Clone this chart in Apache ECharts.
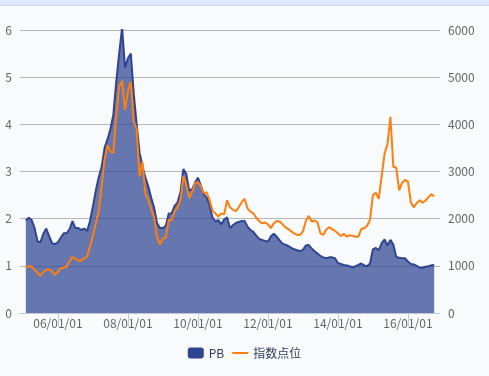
<!DOCTYPE html>
<html>
<head>
<meta charset="utf-8">
<script src="https://cdn.jsdelivr.net/npm/echarts@6/dist/echarts.min.js"></script>
<style>
  html, body { margin: 0; padding: 0; background: #f9fafc; }
  #topbar { position: absolute; left: 0; top: 0; width: 489px; height: 5px; background: #dde9fb; border-bottom: 1px solid #cfdcf0; }
  #chart { width: 489px; height: 376px; }
</style>
</head>
<body>
<div id="topbar"></div>
<div id="chart"></div>
<script>
// monthly points, 2004-12 .. 2016-12
const startYear = 2004, startMonth = 12, monthCount = 145;
const months = [];
for (let i = 0; i < monthCount; i++) {
    const total = startMonth - 1 + i;
    const y = startYear + Math.floor(total / 12);
    const m = total % 12 + 1;
    months.push(String(y % 100).padStart(2, '0') + '/' + String(m).padStart(2, '0') + '/01');
}

const tickLabels = ['06/01/01', '08/01/01', '10/01/01', '12/01/01', '14/01/01', '16/01/01'];

const pbValues = [
    null, null,
    1.96, 2.02, 1.97, 1.80, 1.52, 1.50, 1.68, 1.79, 1.63, 1.48, 1.46,
    1.50, 1.60, 1.69, 1.69, 1.78, 1.95, 1.80, 1.80, 1.76, 1.79, 1.74, 1.95,
    2.26, 2.60, 2.88, 3.10, 3.50, 3.68, 3.90, 4.20, 4.90, 5.50, 6.05, 5.20,
    5.40, 5.50, 4.65, 4.00, 3.40, 3.10, 2.87, 2.68, 2.44, 2.23, 1.90, 1.80,
    1.80, 1.85, 2.11, 2.11, 2.27, 2.34, 2.56, 3.05, 2.95, 2.60, 2.62, 2.76,
    2.87, 2.70, 2.52, 2.45, 2.28, 2.02, 1.94, 1.97, 1.88, 1.98, 2.03, 1.80,
    1.86, 1.91, 1.93, 1.95, 1.95, 1.83, 1.76, 1.72, 1.64, 1.57, 1.55, 1.53,
    1.51, 1.62, 1.68, 1.62, 1.54, 1.47, 1.45, 1.42, 1.38, 1.35, 1.33, 1.31,
    1.34, 1.43, 1.44, 1.37, 1.31, 1.26, 1.21, 1.18, 1.16, 1.18, 1.18, 1.16,
    1.06, 1.04, 1.02, 1.01, 0.99, 0.97, 0.99, 1.02, 1.05, 1.01, 0.99, 1.05,
    1.35, 1.38, 1.33, 1.48, 1.56, 1.43, 1.55, 1.45, 1.19, 1.17, 1.16, 1.16,
    1.09, 1.04, 1.03, 1.00, 0.96, 0.96, 0.98, 0.99, 1.01, 1.02,
    null, null
];

const indexValues = [
    null, null,
    960, 1000, 980, 920, 850, 790, 870, 915, 925, 880, 806,
    880, 950, 965, 982, 1100, 1185, 1150, 1110, 1110, 1160, 1200, 1406,
    1650, 1900, 2160, 2700, 3250, 3560, 3420, 3400, 4200, 4800, 4920, 4300,
    4700, 4900, 4050, 3900, 2900, 3200, 2520, 2396, 2210, 2020, 1600, 1450,
    1580, 1600, 1972, 1972, 2160, 2240, 2400, 2900, 2730, 2440, 2560, 2750,
    2780, 2680, 2540, 2560, 2400, 2170, 2110, 2042, 2110, 2090, 2390, 2240,
    2190, 2160, 2240, 2350, 2420, 2220, 2150, 2114, 2020, 1950, 1900, 1920,
    1880, 1800, 1900, 1950, 1940, 1880, 1820, 1780, 1730, 1690, 1654, 1654,
    1730, 1950, 2060, 1940, 1960, 1920, 1690, 1654, 1770, 1820, 1780, 1740,
    1690, 1630, 1680, 1620, 1650, 1640, 1618, 1618, 1780, 1796, 1850, 1972,
    2500, 2550, 2420, 2900, 3380, 3580, 4160, 3100, 3080, 2600, 2760, 2820,
    2790, 2350, 2240, 2326, 2390, 2340, 2380, 2450, 2520, 2470,
    null, null
];

const chart = echarts.init(document.getElementById('chart'));
const font = "'Noto Sans CJK SC', 'Noto Sans', sans-serif";
const showTick = (i, v) => tickLabels.indexOf(v) !== -1;

chart.setOption({
    backgroundColor: 'transparent',
    textStyle: { fontFamily: font },
    animation: false,
    grid: { left: 20, right: 49, top: 30, bottom: 63 },
    legend: {
        bottom: 12,
        left: 'center',
        itemWidth: 16,
        itemHeight: 11,
        itemGap: 8,
        textStyle: { color: '#2d3b5e', fontSize: 12, fontFamily: font },
        data: [
            { name: 'PB', icon: 'roundRect' },
            // thin bar centred in a 16x11 box
            { name: '指数点位', icon: 'path://M0,0 M16,11 M0,4.5 L16,4.5 L16,6.5 L0,6.5 Z' }
        ]
    },
    xAxis: {
        type: 'category',
        data: months,
        boundaryGap: false,
        axisLine: { lineStyle: { color: '#b9c8de' } },
        axisTick: { interval: showTick, length: 14, lineStyle: { color: '#bccbe2' } },
        axisLabel: { interval: showTick, color: '#666', fontSize: 12, margin: 4 },
        splitLine: { show: false }
    },
    yAxis: [
        {
            type: 'value',
            min: 0, max: 6, interval: 1,
            axisLine: { show: false },
            axisTick: { show: false },
            axisLabel: { color: '#666', fontSize: 12 },
            splitLine: { lineStyle: { color: '#b5b5b5' } }
        },
        {
            type: 'value',
            min: 0, max: 6000, interval: 1000,
            axisLine: { show: false },
            axisTick: { show: false },
            axisLabel: { color: '#666', fontSize: 12, formatter: v => String(v) },
            splitLine: { show: false }
        }
    ],
    series: [
        {
            name: 'PB',
            type: 'line',
            yAxisIndex: 0,
            data: pbValues,
            symbol: 'none',
            itemStyle: { color: '#2f4592' },
            lineStyle: { color: '#2f4592', width: 2 },
            areaStyle: { color: '#2f4592', opacity: 0.73 }
        },
        {
            name: '指数点位',
            type: 'line',
            yAxisIndex: 1,
            data: indexValues,
            symbol: 'none',
            itemStyle: { color: '#ff7f0e' },
            lineStyle: { color: '#ff7f0e', width: 2 }
        }
    ]
});
</script>
</body>
</html>
